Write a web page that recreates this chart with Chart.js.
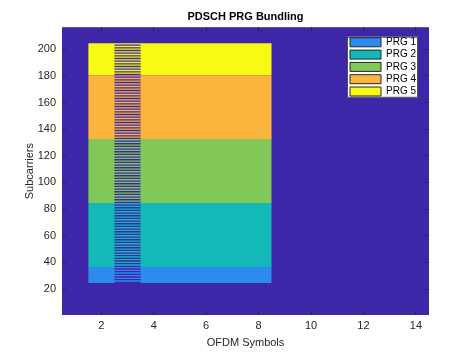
<!DOCTYPE html>
<html>
<head>
<meta charset="utf-8">
<script src="https://cdn.jsdelivr.net/npm/chart.js@4"></script>
<style>
  html, body { margin: 0; padding: 0; background: #ffffff; }
  #wrap { width: 474px; height: 355px; }
</style>
</head>
<body>
<div id="wrap"><canvas id="c" width="474" height="355"></canvas></div>
<script>
// ---------------- data ----------------
const chartTitle = 'PDSCH PRG Bundling';
const xAxisLabel = 'OFDM Symbols';
const yAxisLabel = 'Subcarriers';
const xTicks = [2, 4, 6, 8, 10, 12, 14];
const yTicks = [20, 40, 60, 80, 100, 120, 140, 160, 180, 200];
const symbolRange = [1, 14];          // OFDM symbols in the slot
const subcarrierRange = [1, 216];     // subcarriers in the grid
const pdschSymbols = [2, 8];          // first and last PDSCH symbol
const prgNames = ['PRG 1', 'PRG 2', 'PRG 3', 'PRG 4', 'PRG 5'];
const prgFirstSubcarrier = [25, 37, 85, 133, 181];
const prgLastSubcarrier = [36, 84, 132, 180, 204];
const prgColors = ['#2C8BEE', '#13B9B7', '#82C858', '#FBB53C', '#F9FA14'];
const emptyColor = '#3E26A8';
const dmrsSymbol = 3;
const dmrsSubcarriers = [25, 27, 29, 31, 33, 35, 37, 39, 41, 43, 45, 47, 49, 51, 53, 55, 57, 59,
  61, 63, 65, 67, 69, 71, 73, 75, 77, 79, 81, 83, 85, 87, 89, 91, 93, 95, 97, 99, 101, 103,
  105, 107, 109, 111, 113, 115, 117, 119, 121, 123, 125, 127, 129, 131, 133, 135, 137, 139,
  141, 143, 145, 147, 149, 151, 153, 155, 157, 159, 161, 163, 165, 167, 169, 171, 173, 175,
  177, 179, 181, 183, 185, 187, 189, 191, 193, 195, 197, 199, 201, 203];

// ---------------- build datasets ----------------
const half = 0.5; // a cell spans its index +/- half
const datasets = prgNames.map((name, i) => ({
  label: name,
  data: [
    { x: pdschSymbols[0] - half, y: prgLastSubcarrier[i] + half },
    { x: pdschSymbols[1] + half, y: prgLastSubcarrier[i] + half }
  ],
  fill: { value: prgFirstSubcarrier[i] - half },
  backgroundColor: prgColors[i],
  borderColor: 'transparent',
  borderWidth: 0,
  pointRadius: 0,
  order: 1
}));

const dmrsData = [];
dmrsSubcarriers.forEach(k => {
  dmrsData.push({ x: dmrsSymbol - half, y: k }, { x: dmrsSymbol + half, y: k }, { x: dmrsSymbol + half, y: null });
});
datasets.push({
  label: 'DM-RS',
  data: dmrsData,
  borderColor: emptyColor,
  borderWidth: (ctx) => {
    const s = ctx.chart.scales && ctx.chart.scales.y;
    if (!s) return 1.3;
    return Math.abs(s.getPixelForValue(0) - s.getPixelForValue(1));
  },
  borderCapStyle: 'butt',
  pointRadius: 0,
  fill: false,
  spanGaps: false,
  order: 0
});

// ---------------- plugins ----------------
const plotBackground = {
  id: 'plotBackground',
  beforeDraw(chart) {
    const { ctx, chartArea: a } = chart;
    ctx.save();
    ctx.fillStyle = '#ffffff';
    ctx.fillRect(0, 0, chart.width, chart.height);
    ctx.fillStyle = emptyColor;
    ctx.fillRect(a.left, a.top, a.right - a.left, a.bottom - a.top);
    ctx.restore();
  }
};

const legendOnTop = {
  id: 'legendOnTop',
  beforeLayout(chart) {
    const lg = chart.legend;
    if (!lg || lg._onTop) return;
    lg._onTop = true;
    lg._layers = () => [{
      z: 10,
      draw: () => {
        const a = chart.chartArea, ctx = chart.ctx;
        const boxW = 71, boxH = 61;
        const bx = a.right - 11 - boxW, by = a.top + 9.5;
        ctx.save();
        ctx.fillStyle = '#ffffff';
        ctx.fillRect(bx, by, boxW, boxH);
        ctx.strokeStyle = '#262626';
        ctx.lineWidth = 0.8;
        ctx.strokeRect(bx + 0.5, by + 0.5, boxW - 1, boxH - 1);
        ctx.restore();
        lg.left = bx + 0.7;
        lg.right = bx + boxW - 1;
        lg.top = by - 1.7;
        lg.bottom = a.bottom;
        lg.draw();
      }
    }];
  }
};

// ---------------- chart ----------------
Chart.defaults.font.family = '"Liberation Sans", Arial, Helvetica, sans-serif';
Chart.defaults.font.size = 11;
Chart.defaults.color = '#262626';

const tickGrid = {
  drawOnChartArea: false,
  drawTicks: true,
  tickLength: -4,
  color: '#262626',
  tickColor: '#262626',
  lineWidth: 0.8
};

new Chart(document.getElementById('c'), {
  type: 'line',
  data: { datasets },
  plugins: [plotBackground, legendOnTop],
  options: {
    responsive: false,
    animation: false,
    events: [],
    layout: { padding: { left: 0, right: 45, top: 0, bottom: 0 } },
    scales: {
      x: {
        type: 'linear',
        position: 'bottom',
        min: symbolRange[0] - half,
        max: symbolRange[1] + half,
        afterBuildTicks: s => { s.ticks = xTicks.map(v => ({ value: v })); },
        afterFit: s => { s.height = 40; },
        grid: tickGrid,
        border: { display: false },
        ticks: { padding: 8, color: '#262626', maxRotation: 0, font: { size: 11 } },
        title: { display: true, text: xAxisLabel, color: '#262626', font: { size: 11 }, padding: { top: 0, bottom: 5.4 } }
      },
      x2: {
        type: 'linear',
        position: 'top',
        min: symbolRange[0] - half,
        max: symbolRange[1] + half,
        afterBuildTicks: s => { s.ticks = xTicks.map(v => ({ value: v })); },
        afterFit: s => { s.height = 0; },
        grid: tickGrid,
        border: { display: false },
        ticks: { display: false }
      },
      y: {
        type: 'linear',
        position: 'left',
        min: subcarrierRange[0] - half,
        max: subcarrierRange[1] + half,
        afterBuildTicks: s => { s.ticks = yTicks.map(v => ({ value: v })); },
        afterFit: s => { s.width = 62; },
        grid: tickGrid,
        border: { display: false },
        ticks: { padding: 10, color: '#262626', font: { size: 11 } },
        title: { display: true, text: yAxisLabel, color: '#262626', font: { size: 11 }, padding: { top: 23, bottom: 0 } }
      },
      y2: {
        type: 'linear',
        position: 'right',
        min: subcarrierRange[0] - half,
        max: subcarrierRange[1] + half,
        afterBuildTicks: s => { s.ticks = yTicks.map(v => ({ value: v })); },
        afterFit: s => { s.width = 0; },
        grid: tickGrid,
        border: { display: false },
        ticks: { display: false }
      }
    },
    plugins: {
      title: {
        display: true,
        text: chartTitle,
        fullSize: false,
        color: '#000000',
        font: { size: 11, weight: 'bold' },
        padding: { top: 10, bottom: 4 }
      },
      legend: {
        display: true,
        position: 'chartArea',
        align: 'start',
        labels: {
          boxWidth: 31,
          boxHeight: 9,
          padding: 2.3,
          color: '#000000',
          font: { size: 10 },
          filter: item => item.datasetIndex < prgNames.length,
          generateLabels: chart => {
            const items = Chart.defaults.plugins.legend.labels.generateLabels(chart);
            items.forEach(it => { it.strokeStyle = '#262626'; it.lineWidth = 1; });
            return items;
          }
        }
      },
      tooltip: { enabled: false }
    }
  }
});
</script>
</body>
</html>
